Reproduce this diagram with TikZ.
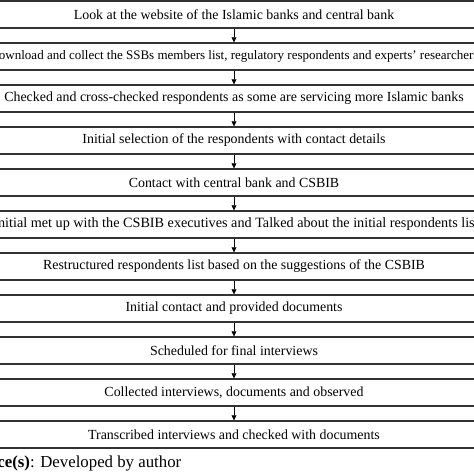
\documentclass[tikz,border=0pt]{standalone}
\usepackage{fontspec}
\setmainfont{Liberation Serif}
\usetikzlibrary{arrows.meta}

\tikzset{
  stepbox/.style={draw=black!80, line width=1.4pt, minimum width=540pt,
    minimum height=27pt, inner sep=0pt, font=\fontsize{13.9}{16}\selectfont},
  flow/.style={-{Triangle[length=5pt,width=5pt]}, line width=0.7pt}
}

\begin{document}
\begin{tikzpicture}[x=1pt,y=-1pt]

\useasboundingbox (0,0) rectangle (474,474);
\clip (0,0) rectangle (474,474);

% Steps
\node[stepbox] (s1) at (234,14.5) {Look at the website of the Islamic banks and central bank};
\node[stepbox,font=\fontsize{13}{16}\selectfont] (s2) at (234,56.5) {Download and collect the SSBs members list, regulatory respondents and experts' researchers};
\node[stepbox] (s3) at (234,98.5) {Checked and cross-checked respondents as some are servicing more Islamic banks};
\node[stepbox] (s4) at (234,140.5) {Initial selection of the respondents with contact details};
\node[stepbox] (s5) at (234,182.5) {Contact with central bank and CSBIB};
\node[stepbox,font=\fontsize{14.2}{16}\selectfont] (s6) at (236,224.5) {Initial met up with the CSBIB executives and Talked about the initial respondents list};
\node[stepbox] (s7) at (234,266.5) {Restructured respondents list based on the suggestions of the CSBIB};
\node[stepbox] (s8) at (234,308.5) {Initial contact and provided documents};
\node[stepbox] (s9) at (234,350.5) {Scheduled for final interviews};
\node[stepbox] (s10) at (234,392.5) {Collected interviews, documents and observed};
\node[stepbox] (s11) at (234,434.5) {Transcribed interviews and checked with documents};

% Arrows
\draw[flow] (s1) -- (s2);
\draw[flow] (s2) -- (s3);
\draw[flow] (s3) -- (s4);
\draw[flow] (s4) -- (s5);
\draw[flow] (s5) -- (s6.north -| s5);
\draw[flow] (s6.south -| s5) -- (s7);
\draw[flow] (s7) -- (s8);
\draw[flow] (s8) -- (s9);
\draw[flow] (s9) -- (s10);
\draw[flow] (s10) -- (s11);

% Source
\node[anchor=base west,inner sep=0pt,font=\fontsize{16.8}{19}\selectfont] (src) at (-37,467) {\textbf{Source(s)}: Developed by author};

\end{tikzpicture}
\end{document}
